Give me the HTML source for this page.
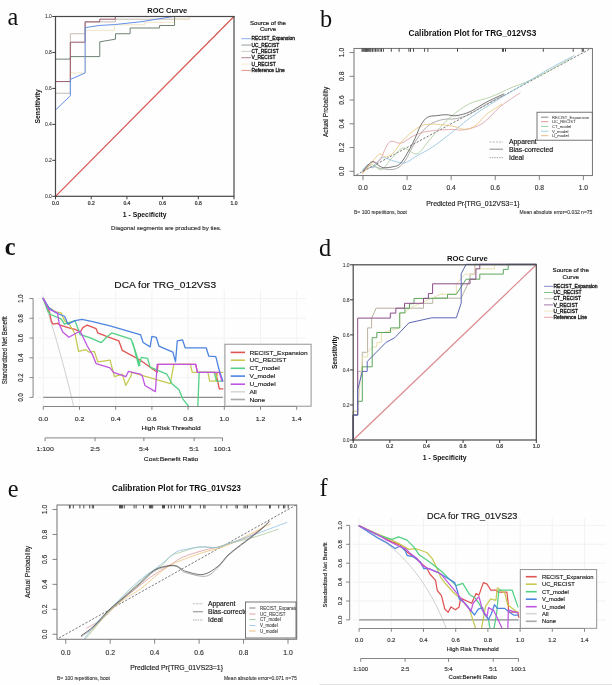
<!DOCTYPE html><html><head><meta charset="utf-8"><style>html,body{margin:0;padding:0;background:#fff;}svg{display:block;filter:blur(0.35px);}</style></head><body>
<svg width="612" height="685" viewBox="0 0 612 685">
<rect x="0" y="0" width="612" height="685" fill="#fefefe"/>
<defs><clipPath id="cb"><rect x="354" y="48.4" width="238.4" height="127.2"/></clipPath><clipPath id="ce"><rect x="57" y="505" width="239.75" height="134.25"/></clipPath><clipPath id="cc"><rect x="37" y="290" width="300" height="116.5"/></clipPath><clipPath id="cf"><rect x="353" y="518" width="255" height="110.5"/></clipPath></defs>
<text x="7.4" y="25.3" font-size="24.3" text-anchor="start" font-weight="normal" fill="#111" font-family="Liberation Serif" >a</text>
<text x="320" y="26.6" font-size="24.3" text-anchor="start" font-weight="normal" fill="#111" font-family="Liberation Serif" >b</text>
<text x="4.8" y="254.6" font-size="24.3" text-anchor="start" font-weight="bold" fill="#111" font-family="Liberation Serif" >c</text>
<text x="319" y="255.9" font-size="24.3" text-anchor="start" font-weight="normal" fill="#111" font-family="Liberation Serif" >d</text>
<text x="7.8" y="496.8" font-size="24.3" text-anchor="start" font-weight="normal" fill="#111" font-family="Liberation Serif" >e</text>
<text x="319.5" y="495.6" font-size="24.3" text-anchor="start" font-weight="normal" fill="#111" font-family="Liberation Serif" >f</text>
<path d="M55.5 93.27 L70.32 93.27 L70.32 33.76 L85.13 33.76 L85.13 21.89 L115.3 21.89 L115.3 19.2 L189.38 19.2 L189.38 16.5 L234 16.5" fill="none" stroke="#c4bcb4" stroke-width="1" stroke-linejoin="round" stroke-linecap="round" />
<path d="M70.32 79.43 L70.32 72.96 L85.13 72.96 L85.13 30.34 L114.41 30.34 L114.41 24.77 L144.75 24.77 L144.75 22.25 L174.56 22.25 L174.56 19.2 L189.38 19.2 L189.38 16.5" fill="none" stroke="#f0e6c4" stroke-width="1" stroke-linejoin="round" stroke-linecap="round" />
<path d="M55.5 59.11 L70.32 59.11 L70.32 56.6 L99.77 56.6 L99.77 41.85 L115.48 39.15 L115.48 33.76 L130.11 33.76 L130.11 28.01 L159.57 28.01 L159.57 25.49 L174.56 25.49 L174.56 16.5 L234 16.5" fill="none" stroke="#6f8373" stroke-width="1" stroke-linejoin="round" stroke-linecap="round" />
<path d="M55.5 81.59 L70.32 81.59 L70.32 42.21 L85.13 42.21 L85.13 21.89 L99.77 21.89 L99.77 19.2 L115.3 19.2 L115.3 16.5 L234 16.5" fill="none" stroke="#9a5868" stroke-width="1" stroke-linejoin="round" stroke-linecap="round" />
<path d="M55.5 110 L70.32 95.79 L70.32 79.43 L85.13 72.96 L85.13 27.65 L99.05 25.49 L114.41 24.59 L139.93 21.89 L173.31 16.5 L234 16.5" fill="none" stroke="#6490e8" stroke-width="1" stroke-linejoin="round" stroke-linecap="round" />
<line x1="55.5" y1="196.3" x2="234" y2="16.5" stroke="#d8574f" stroke-width="1.2" />
<rect x="55.5" y="16.5" width="178.5" height="179.8" fill="none" stroke="#484848" stroke-width="1.2"/>
<line x1="52.3" y1="196.3" x2="55.5" y2="196.3" stroke="#3a3a3a" stroke-width="1" />
<text x="51.9" y="198.1" font-size="5" text-anchor="end" font-weight="normal" fill="#444" stroke="#444" stroke-width="0.1" font-family="Liberation Sans" >0.0</text>
<line x1="55.5" y1="196.3" x2="55.5" y2="199.3" stroke="#3a3a3a" stroke-width="1" />
<text x="55.5" y="204.7" font-size="5" text-anchor="middle" font-weight="normal" fill="#333" stroke="#333" stroke-width="0.22" font-family="Liberation Sans" >0.0</text>
<line x1="52.3" y1="160.34" x2="55.5" y2="160.34" stroke="#3a3a3a" stroke-width="1" />
<text x="51.9" y="162.14" font-size="5" text-anchor="end" font-weight="normal" fill="#444" stroke="#444" stroke-width="0.1" font-family="Liberation Sans" >0.2</text>
<line x1="91.2" y1="196.3" x2="91.2" y2="199.3" stroke="#3a3a3a" stroke-width="1" />
<text x="91.2" y="204.7" font-size="5" text-anchor="middle" font-weight="normal" fill="#333" stroke="#333" stroke-width="0.22" font-family="Liberation Sans" >0.2</text>
<line x1="52.3" y1="124.38" x2="55.5" y2="124.38" stroke="#3a3a3a" stroke-width="1" />
<text x="51.9" y="126.18" font-size="5" text-anchor="end" font-weight="normal" fill="#444" stroke="#444" stroke-width="0.1" font-family="Liberation Sans" >0.4</text>
<line x1="126.9" y1="196.3" x2="126.9" y2="199.3" stroke="#3a3a3a" stroke-width="1" />
<text x="126.9" y="204.7" font-size="5" text-anchor="middle" font-weight="normal" fill="#333" stroke="#333" stroke-width="0.22" font-family="Liberation Sans" >0.4</text>
<line x1="52.3" y1="88.42" x2="55.5" y2="88.42" stroke="#3a3a3a" stroke-width="1" />
<text x="51.9" y="90.22" font-size="5" text-anchor="end" font-weight="normal" fill="#444" stroke="#444" stroke-width="0.1" font-family="Liberation Sans" >0.6</text>
<line x1="162.6" y1="196.3" x2="162.6" y2="199.3" stroke="#3a3a3a" stroke-width="1" />
<text x="162.6" y="204.7" font-size="5" text-anchor="middle" font-weight="normal" fill="#333" stroke="#333" stroke-width="0.22" font-family="Liberation Sans" >0.6</text>
<line x1="52.3" y1="52.46" x2="55.5" y2="52.46" stroke="#3a3a3a" stroke-width="1" />
<text x="51.9" y="54.26" font-size="5" text-anchor="end" font-weight="normal" fill="#444" stroke="#444" stroke-width="0.1" font-family="Liberation Sans" >0.8</text>
<line x1="198.3" y1="196.3" x2="198.3" y2="199.3" stroke="#3a3a3a" stroke-width="1" />
<text x="198.3" y="204.7" font-size="5" text-anchor="middle" font-weight="normal" fill="#333" stroke="#333" stroke-width="0.22" font-family="Liberation Sans" >0.8</text>
<line x1="52.3" y1="16.5" x2="55.5" y2="16.5" stroke="#3a3a3a" stroke-width="1" />
<text x="51.9" y="18.3" font-size="5" text-anchor="end" font-weight="normal" fill="#444" stroke="#444" stroke-width="0.1" font-family="Liberation Sans" >1.0</text>
<line x1="234" y1="196.3" x2="234" y2="199.3" stroke="#3a3a3a" stroke-width="1" />
<text x="234" y="204.7" font-size="5" text-anchor="middle" font-weight="normal" fill="#333" stroke="#333" stroke-width="0.22" font-family="Liberation Sans" >1.0</text>
<text x="167.3" y="12.9" font-size="7.5" text-anchor="middle" font-weight="bold" fill="#111" font-family="Liberation Sans" >ROC Curve</text>
<text x="0" y="2.47" font-size="6.85" text-anchor="middle" font-weight="bold" fill="#111" font-family="Liberation Sans" transform="translate(37.2 106.4) scale(1.0 1) rotate(-90)" >Sensitivity</text>
<text x="144.75" y="216.75" font-size="6.8" text-anchor="middle" font-weight="bold" fill="#111" font-family="Liberation Sans" >1 - Specificity</text>
<text x="268" y="24.68" font-size="6.05" text-anchor="middle" font-weight="normal" fill="#222" stroke="#222" stroke-width="0.2" font-family="Liberation Sans" >Source of the</text>
<text x="268" y="30.88" font-size="6.05" text-anchor="middle" font-weight="normal" fill="#222" stroke="#222" stroke-width="0.2" font-family="Liberation Sans" >Curve</text>
<line x1="241.4" y1="38.7" x2="251" y2="38.7" stroke="#6490e8" stroke-width="0.75" />
<text x="251.5" y="40.46" font-size="4.9" text-anchor="start" font-weight="normal" fill="#111" stroke="#111" stroke-width="0.28" font-family="Liberation Sans" >RECIST_Expansion</text>
<line x1="241.4" y1="45.04" x2="251" y2="45.04" stroke="#6f8373" stroke-width="0.75" />
<text x="251.5" y="46.8" font-size="4.9" text-anchor="start" font-weight="normal" fill="#111" stroke="#111" stroke-width="0.28" font-family="Liberation Sans" >UC_RECIST</text>
<line x1="241.4" y1="51.38" x2="251" y2="51.38" stroke="#c4bcb4" stroke-width="0.75" />
<text x="251.5" y="53.14" font-size="4.9" text-anchor="start" font-weight="normal" fill="#111" stroke="#111" stroke-width="0.28" font-family="Liberation Sans" >CT_RECIST</text>
<line x1="241.4" y1="57.72" x2="251" y2="57.72" stroke="#9a5868" stroke-width="0.75" />
<text x="251.5" y="59.48" font-size="4.9" text-anchor="start" font-weight="normal" fill="#111" stroke="#111" stroke-width="0.28" font-family="Liberation Sans" >V_RECIST</text>
<line x1="241.4" y1="64.06" x2="251" y2="64.06" stroke="#f0e6c4" stroke-width="0.75" />
<text x="251.5" y="65.82" font-size="4.9" text-anchor="start" font-weight="normal" fill="#111" stroke="#111" stroke-width="0.28" font-family="Liberation Sans" >U_RECIST</text>
<line x1="241.4" y1="70.4" x2="251" y2="70.4" stroke="#e07060" stroke-width="0.75" />
<text x="251.5" y="72.16" font-size="4.9" text-anchor="start" font-weight="normal" fill="#111" stroke="#111" stroke-width="0.28" font-family="Liberation Sans" >Reference Line</text>
<text x="166.3" y="230.49" font-size="6.08" text-anchor="middle" font-weight="normal" fill="#333" stroke="#333" stroke-width="0.15" font-family="Liberation Sans" >Diagonal segments are produced by ties.</text>
<path d="M353.1 440 L353.1 411.3 L357.7 411.3 L357.7 371.4 L362.3 371.4 L362.3 352.3 L367.6 352.3 L367.6 327.9 L371.6 327.9 L371.6 318.1 L376.1 308.2 L423.5 308.2 L423.5 303.3 L432.7 303.3 L432.7 298.2 L461.2 298.2 L470 279.2 L470 274.1 L474.9 274.1 L474.9 264.3 L536 264.3" fill="none" stroke="#bab2a2" stroke-width="1" stroke-linejoin="round" stroke-linecap="round" />
<path d="M353.1 440 L353.1 411.3 L357.7 411.3 L362.3 356.9 L367.6 356.9 L367.6 352.3 L372.2 346.9 L376.8 346.9 L376.8 342.3 L381.4 342.3 L381.4 333.1 L399.8 327.8 L399.8 313.1 L404.7 313.1 L409.6 308.2 L442.3 293.5 L441.6 294.3 L456.3 294.3 L456.3 283.9 L465.1 274.1 L474.9 274.1 L474.9 268.8 L494.5 268.8 L494.5 264.3 L536 264.3" fill="none" stroke="#e9e0b2" stroke-width="1" stroke-linejoin="round" stroke-linecap="round" />
<path d="M353.1 440 L353.1 415 L357.7 415 L357.7 401.3 L362.3 401.3 L362.3 366.8 L372.2 366.8 L372.2 337.7 L376.8 337.7 L376.8 332.5 L390.5 332.5 L390.5 327.9 L399.7 327.9 L399.7 312.9 L404.9 312.9 L404.9 308.3 L409.5 308.3 L409.5 303.7 L414 303.7 L414 298.5 L441.6 298.2 L447.5 298.2 L447.5 294.3 L456.3 294.3 L466.1 279.2 L479.8 279.2 L479.8 274.1 L503.3 274.1 L503.3 269.4 L508.2 269.4 L508.2 264.3 L536 264.3" fill="none" stroke="#5ea65e" stroke-width="1" stroke-linejoin="round" stroke-linecap="round" />
<path d="M353.1 440 L353.1 415 L357.7 415 L357.7 318.1 L390.3 318.1 L390.3 313.1 L395.8 313.1 L395.8 308.2 L404.5 308.2 L404.5 303.3 L423.5 303.3 L423.5 298.4 L428.4 298.4 L428.4 293.5 L432.6 293.5 L432.6 283.8 L470 283.8 L470 279.2 L475.9 279.2 L475.9 268.8 L479.8 268.8 L479.8 264.3 L536 264.3" fill="none" stroke="#8a4f8a" stroke-width="1" stroke-linejoin="round" stroke-linecap="round" />
<path d="M353.1 440 L353.1 415.1 L357.7 415.1 L357.7 389.8 L362.3 371.4 L367.2 371.4 L367.2 361.5 L385.9 342.5 L394.9 337.6 L408.8 322.9 L431.8 317.8 L456.3 317.8 L461.2 303.1 L461.2 273.7 L466.1 264.3 L536 264.3" fill="none" stroke="#5a66b2" stroke-width="1" stroke-linejoin="round" stroke-linecap="round" />
<line x1="353.2" y1="440" x2="536.3" y2="264.8" stroke="#dc8a90" stroke-width="1.2" />
<rect x="353.2" y="264.8" width="183.1" height="175.2" fill="none" stroke="#484848" stroke-width="1.2"/>
<line x1="350" y1="440" x2="353.2" y2="440" stroke="#3a3a3a" stroke-width="1" />
<text x="349.6" y="441.8" font-size="5" text-anchor="end" font-weight="normal" fill="#444" stroke="#444" stroke-width="0.1" font-family="Liberation Sans" >0.0</text>
<line x1="353.2" y1="440" x2="353.2" y2="443" stroke="#3a3a3a" stroke-width="1" />
<text x="353.2" y="448.4" font-size="5" text-anchor="middle" font-weight="normal" fill="#333" stroke="#333" stroke-width="0.22" font-family="Liberation Sans" >0.0</text>
<line x1="350" y1="404.96" x2="353.2" y2="404.96" stroke="#3a3a3a" stroke-width="1" />
<text x="349.6" y="406.76" font-size="5" text-anchor="end" font-weight="normal" fill="#444" stroke="#444" stroke-width="0.1" font-family="Liberation Sans" >0.2</text>
<line x1="389.82" y1="440" x2="389.82" y2="443" stroke="#3a3a3a" stroke-width="1" />
<text x="389.82" y="448.4" font-size="5" text-anchor="middle" font-weight="normal" fill="#333" stroke="#333" stroke-width="0.22" font-family="Liberation Sans" >0.2</text>
<line x1="350" y1="369.92" x2="353.2" y2="369.92" stroke="#3a3a3a" stroke-width="1" />
<text x="349.6" y="371.72" font-size="5" text-anchor="end" font-weight="normal" fill="#444" stroke="#444" stroke-width="0.1" font-family="Liberation Sans" >0.4</text>
<line x1="426.44" y1="440" x2="426.44" y2="443" stroke="#3a3a3a" stroke-width="1" />
<text x="426.44" y="448.4" font-size="5" text-anchor="middle" font-weight="normal" fill="#333" stroke="#333" stroke-width="0.22" font-family="Liberation Sans" >0.4</text>
<line x1="350" y1="334.88" x2="353.2" y2="334.88" stroke="#3a3a3a" stroke-width="1" />
<text x="349.6" y="336.68" font-size="5" text-anchor="end" font-weight="normal" fill="#444" stroke="#444" stroke-width="0.1" font-family="Liberation Sans" >0.6</text>
<line x1="463.06" y1="440" x2="463.06" y2="443" stroke="#3a3a3a" stroke-width="1" />
<text x="463.06" y="448.4" font-size="5" text-anchor="middle" font-weight="normal" fill="#333" stroke="#333" stroke-width="0.22" font-family="Liberation Sans" >0.6</text>
<line x1="350" y1="299.84" x2="353.2" y2="299.84" stroke="#3a3a3a" stroke-width="1" />
<text x="349.6" y="301.64" font-size="5" text-anchor="end" font-weight="normal" fill="#444" stroke="#444" stroke-width="0.1" font-family="Liberation Sans" >0.8</text>
<line x1="499.68" y1="440" x2="499.68" y2="443" stroke="#3a3a3a" stroke-width="1" />
<text x="499.68" y="448.4" font-size="5" text-anchor="middle" font-weight="normal" fill="#333" stroke="#333" stroke-width="0.22" font-family="Liberation Sans" >0.8</text>
<line x1="350" y1="264.8" x2="353.2" y2="264.8" stroke="#3a3a3a" stroke-width="1" />
<text x="349.6" y="266.6" font-size="5" text-anchor="end" font-weight="normal" fill="#444" stroke="#444" stroke-width="0.1" font-family="Liberation Sans" >1.0</text>
<line x1="536.3" y1="440" x2="536.3" y2="443" stroke="#3a3a3a" stroke-width="1" />
<text x="536.3" y="448.4" font-size="5" text-anchor="middle" font-weight="normal" fill="#333" stroke="#333" stroke-width="0.22" font-family="Liberation Sans" >1.0</text>
<text x="467.4" y="261.45" font-size="7.65" text-anchor="middle" font-weight="bold" fill="#111" font-family="Liberation Sans" >ROC Curve</text>
<text x="0" y="2.41" font-size="6.7" text-anchor="middle" font-weight="bold" fill="#111" font-family="Liberation Sans" transform="translate(334.9 352.4) scale(1.0 1) rotate(-90)" >Sensitivity</text>
<text x="444.75" y="459.85" font-size="6.8" text-anchor="middle" font-weight="bold" fill="#111" font-family="Liberation Sans" >1 - Specificity</text>
<text x="570.7" y="272.3" font-size="6.1" text-anchor="middle" font-weight="normal" fill="#222" stroke="#222" stroke-width="0.2" font-family="Liberation Sans" >Source of the</text>
<text x="570.7" y="278.5" font-size="6.1" text-anchor="middle" font-weight="normal" fill="#222" stroke="#222" stroke-width="0.2" font-family="Liberation Sans" >Curve</text>
<line x1="544" y1="286.3" x2="553" y2="286.3" stroke="#5a66b2" stroke-width="0.75" />
<text x="553.5" y="288.09" font-size="4.96" text-anchor="start" font-weight="normal" fill="#111" stroke="#111" stroke-width="0.28" font-family="Liberation Sans" >RECIST_Expansion</text>
<line x1="544" y1="292.5" x2="553" y2="292.5" stroke="#5ea65e" stroke-width="0.75" />
<text x="553.5" y="294.29" font-size="4.96" text-anchor="start" font-weight="normal" fill="#111" stroke="#111" stroke-width="0.28" font-family="Liberation Sans" >UC_RECIST</text>
<line x1="544" y1="298.7" x2="553" y2="298.7" stroke="#bab2a2" stroke-width="0.75" />
<text x="553.5" y="300.49" font-size="4.96" text-anchor="start" font-weight="normal" fill="#111" stroke="#111" stroke-width="0.28" font-family="Liberation Sans" >CT_RECIST</text>
<line x1="544" y1="304.9" x2="553" y2="304.9" stroke="#8a4f8a" stroke-width="0.75" />
<text x="553.5" y="306.69" font-size="4.96" text-anchor="start" font-weight="normal" fill="#111" stroke="#111" stroke-width="0.28" font-family="Liberation Sans" >V_RECIST</text>
<line x1="544" y1="311.1" x2="553" y2="311.1" stroke="#e9e0b2" stroke-width="0.75" />
<text x="553.5" y="312.89" font-size="4.96" text-anchor="start" font-weight="normal" fill="#111" stroke="#111" stroke-width="0.28" font-family="Liberation Sans" >U_RECIST</text>
<line x1="544" y1="317.3" x2="553" y2="317.3" stroke="#dc8a90" stroke-width="0.75" />
<text x="553.5" y="319.09" font-size="4.96" text-anchor="start" font-weight="normal" fill="#111" stroke="#111" stroke-width="0.28" font-family="Liberation Sans" >Reference Line</text>
<defs><clipPath id="lb"><rect x="537" y="112" width="54" height="28"/></clipPath><clipPath id="le"><rect x="245.5" y="602" width="50.5" height="36"/></clipPath></defs>
<g clip-path="url(#cb)">
<line x1="349.78" y1="178.43" x2="596.62" y2="45.43" stroke="#555" stroke-width="0.8" stroke-dasharray="2.2 1.6"/>
<path d="M362.82 170.59 C364.62 169.93 370.5 166.99 373.61 166.67 C376.71 166.34 377.86 168.24 381.45 168.63 C385.05 169.02 391.25 170.33 395.18 169.02 C399.1 167.71 401.39 165.75 404.98 160.78 C408.58 155.82 412.82 145.1 416.75 139.22 C420.67 133.33 424.26 128.76 428.51 125.49 C432.76 122.22 437.66 120.75 442.24 119.61 C446.81 118.46 451.35 119.54 455.96 118.63 C460.57 117.71 464.82 116.52 469.88 114.12 C474.95 111.72 480.7 107.38 486.34 104.23 C491.98 101.09 500.81 96.74 503.7 95.25" fill="none" stroke="#8a8a8a" stroke-width="0.7" stroke-linejoin="round" stroke-linecap="round" />
<path d="M362.82 169.61 C364.29 168.79 368.54 164.71 371.65 164.71 C374.75 164.71 378.18 170.59 381.45 169.61 C384.72 168.63 387.66 162.42 391.25 158.82 C394.85 155.23 398.77 148.86 403.02 148.04 C407.27 147.22 412.5 155.07 416.75 153.92 C420.99 152.78 424.59 145.59 428.51 141.18 C432.43 136.76 436.35 131.7 440.27 127.45 C444.2 123.2 447.1 119.67 452.04 115.69 C456.97 111.7 463.48 106.63 469.88 103.53 C476.28 100.43 483.6 99.69 490.42 97.08 C497.25 94.48 504.38 90.62 510.85 87.89 C517.32 85.17 522.42 83.88 529.23 80.74 C536.04 77.61 544.55 72.95 551.7 69.1 C558.85 65.25 568.72 59.57 572.12 57.66" fill="none" stroke="#a9c99a" stroke-width="0.8" stroke-linejoin="round" stroke-linecap="round" />
<path d="M362.82 170.59 C363.64 169.61 365.93 165.2 367.73 164.71 C369.52 164.22 371.32 168.79 373.61 167.65 C375.9 166.5 378.18 158.99 381.45 157.84 C384.72 156.7 389.29 159.97 393.22 160.78 C397.14 161.6 401.06 163.56 404.98 162.75 C408.9 161.93 412.17 158.5 416.75 155.88 C421.32 153.27 426.55 150.98 432.43 147.06 C438.31 143.14 445.8 137.19 452.04 132.35 C458.28 127.52 463.48 122.73 469.88 118.04 C476.28 113.35 483.6 108.58 490.42 104.23 C497.25 99.89 504.38 95.89 510.85 91.98 C517.32 88.06 522.42 84.83 529.23 80.74 C536.04 76.66 544.21 71.65 551.7 67.47 C559.19 63.28 570.42 57.6 574.17 55.62" fill="none" stroke="#8fc0e0" stroke-width="0.8" stroke-linejoin="round" stroke-linecap="round" />
<path d="M362.82 172.55 C364.29 170.92 368.87 164.71 371.65 162.75 C374.42 160.78 376.55 164.22 379.49 160.78 C382.43 157.35 385.7 145.1 389.29 142.16 C392.89 139.22 397.14 144.12 401.06 143.14 C404.98 142.16 409.23 138.07 412.82 136.27 C416.42 134.48 418.71 133.33 422.63 132.35 C426.55 131.37 431.45 130.88 436.35 130.39 C441.25 129.9 447.46 129.51 452.04 129.41 C456.61 129.31 458.77 130.77 463.8 129.8 C468.84 128.84 476.12 127.56 482.25 123.64 C488.39 119.71 494.34 111.38 500.64 106.27 C506.93 101.17 516.81 95.21 520.04 93" fill="none" stroke="#dc9aa0" stroke-width="0.8" stroke-linejoin="round" stroke-linecap="round" />
<path d="M362.82 173.53 C364.29 171.73 368.87 166.01 371.65 162.75 C374.42 159.48 377.2 154.9 379.49 153.92 C381.78 152.94 383.08 157.03 385.37 156.86 C387.66 156.7 390.27 155.72 393.22 152.94 C396.16 150.16 399.1 144.28 403.02 140.2 C406.94 136.11 412.82 131.05 416.75 128.43 C420.67 125.82 422.63 125.16 426.55 124.51 C430.47 123.86 435.7 124.18 440.27 124.51 C444.85 124.84 449.75 125.65 454 126.47 C458.25 127.29 462.08 129.65 465.76 129.41 C469.45 129.18 472.7 127.56 476.13 125.07 C479.56 122.57 482.08 117.92 486.34 114.44 C490.6 110.97 499.11 105.93 501.66 104.23" fill="none" stroke="#e8c47a" stroke-width="0.8" stroke-linejoin="round" stroke-linecap="round" />
<path d="M362.82 171.57 C364.29 169.93 369.2 162.91 371.65 161.76 C374.1 160.62 375.57 163.73 377.53 164.71 C379.49 165.69 380.8 167.32 383.41 167.65 C386.03 167.97 390.27 167.48 393.22 166.67 C396.16 165.85 397.79 166.67 401.06 162.75 C404.33 158.82 409.56 149.35 412.82 143.14 C416.09 136.93 418.22 129.8 420.67 125.49 C423.12 121.18 424.92 118.89 427.53 117.25 C430.14 115.62 433.25 116.11 436.35 115.69 C439.46 115.26 442.89 114.71 446.16 114.71 C449.42 114.71 452.01 116.18 455.96 115.69 C459.92 115.2 464.82 114.01 469.88 111.76 C474.95 109.52 480.7 105.15 486.34 102.19 C491.98 99.23 500.81 95.38 503.7 94.02" fill="none" stroke="#505050" stroke-width="0.8" stroke-linejoin="round" stroke-linecap="round" />
</g>
<rect x="354" y="48.4" width="238.4" height="127.2" fill="none" stroke="#666" stroke-width="0.9"/>
<line x1="349.5" y1="171.3" x2="354" y2="171.3" stroke="#666" stroke-width="0.8" />
<text x="0" y="2.41" font-size="6.7" text-anchor="middle" font-weight="normal" fill="#333" stroke="#333" stroke-width="0.15" font-family="Liberation Sans" transform="translate(341.6 171.3) scale(1.0 1) rotate(-90)" >0.0</text>
<line x1="363" y1="175.6" x2="363" y2="180.1" stroke="#666" stroke-width="0.8" />
<text x="363" y="190.31" font-size="6.7" text-anchor="middle" font-weight="normal" fill="#333" stroke="#333" stroke-width="0.15" font-family="Liberation Sans" >0.0</text>
<line x1="349.5" y1="147.55" x2="354" y2="147.55" stroke="#666" stroke-width="0.8" />
<text x="0" y="2.41" font-size="6.7" text-anchor="middle" font-weight="normal" fill="#333" stroke="#333" stroke-width="0.15" font-family="Liberation Sans" transform="translate(341.6 147.55) scale(1.0 1) rotate(-90)" >0.2</text>
<line x1="407.08" y1="175.6" x2="407.08" y2="180.1" stroke="#666" stroke-width="0.8" />
<text x="407.08" y="190.31" font-size="6.7" text-anchor="middle" font-weight="normal" fill="#333" stroke="#333" stroke-width="0.15" font-family="Liberation Sans" >0.2</text>
<line x1="349.5" y1="123.8" x2="354" y2="123.8" stroke="#666" stroke-width="0.8" />
<text x="0" y="2.41" font-size="6.7" text-anchor="middle" font-weight="normal" fill="#333" stroke="#333" stroke-width="0.15" font-family="Liberation Sans" transform="translate(341.6 123.8) scale(1.0 1) rotate(-90)" >0.4</text>
<line x1="451.16" y1="175.6" x2="451.16" y2="180.1" stroke="#666" stroke-width="0.8" />
<text x="451.16" y="190.31" font-size="6.7" text-anchor="middle" font-weight="normal" fill="#333" stroke="#333" stroke-width="0.15" font-family="Liberation Sans" >0.4</text>
<line x1="349.5" y1="100.05" x2="354" y2="100.05" stroke="#666" stroke-width="0.8" />
<text x="0" y="2.41" font-size="6.7" text-anchor="middle" font-weight="normal" fill="#333" stroke="#333" stroke-width="0.15" font-family="Liberation Sans" transform="translate(341.6 100.05) scale(1.0 1) rotate(-90)" >0.6</text>
<line x1="495.24" y1="175.6" x2="495.24" y2="180.1" stroke="#666" stroke-width="0.8" />
<text x="495.24" y="190.31" font-size="6.7" text-anchor="middle" font-weight="normal" fill="#333" stroke="#333" stroke-width="0.15" font-family="Liberation Sans" >0.6</text>
<line x1="349.5" y1="76.3" x2="354" y2="76.3" stroke="#666" stroke-width="0.8" />
<text x="0" y="2.41" font-size="6.7" text-anchor="middle" font-weight="normal" fill="#333" stroke="#333" stroke-width="0.15" font-family="Liberation Sans" transform="translate(341.6 76.3) scale(1.0 1) rotate(-90)" >0.8</text>
<line x1="539.32" y1="175.6" x2="539.32" y2="180.1" stroke="#666" stroke-width="0.8" />
<text x="539.32" y="190.31" font-size="6.7" text-anchor="middle" font-weight="normal" fill="#333" stroke="#333" stroke-width="0.15" font-family="Liberation Sans" >0.8</text>
<line x1="349.5" y1="52.55" x2="354" y2="52.55" stroke="#666" stroke-width="0.8" />
<text x="0" y="2.41" font-size="6.7" text-anchor="middle" font-weight="normal" fill="#333" stroke="#333" stroke-width="0.15" font-family="Liberation Sans" transform="translate(341.6 52.55) scale(1.0 1) rotate(-90)" >1.0</text>
<line x1="583.4" y1="175.6" x2="583.4" y2="180.1" stroke="#666" stroke-width="0.8" />
<text x="583.4" y="190.31" font-size="6.7" text-anchor="middle" font-weight="normal" fill="#333" stroke="#333" stroke-width="0.15" font-family="Liberation Sans" >1.0</text>
<line x1="362" y1="48.4" x2="362" y2="51.8" stroke="#444" stroke-width="0.95" />
<line x1="362.9" y1="48.4" x2="362.9" y2="51.8" stroke="#444" stroke-width="0.95" />
<line x1="363.8" y1="48.4" x2="363.8" y2="51.8" stroke="#444" stroke-width="0.95" />
<line x1="364.7" y1="48.4" x2="364.7" y2="51.8" stroke="#444" stroke-width="0.95" />
<line x1="365.6" y1="48.4" x2="365.6" y2="51.8" stroke="#444" stroke-width="0.95" />
<line x1="366.5" y1="48.4" x2="366.5" y2="51.8" stroke="#444" stroke-width="0.95" />
<line x1="367.4" y1="48.4" x2="367.4" y2="51.8" stroke="#444" stroke-width="0.95" />
<line x1="368.3" y1="48.4" x2="368.3" y2="51.8" stroke="#444" stroke-width="0.95" />
<line x1="369.2" y1="48.4" x2="369.2" y2="51.8" stroke="#444" stroke-width="0.95" />
<line x1="370.1" y1="48.4" x2="370.1" y2="51.8" stroke="#444" stroke-width="0.95" />
<line x1="371" y1="48.4" x2="371" y2="51.8" stroke="#444" stroke-width="0.95" />
<line x1="372.5" y1="48.4" x2="372.5" y2="51.8" stroke="#444" stroke-width="0.95" />
<line x1="374" y1="48.4" x2="374" y2="51.8" stroke="#444" stroke-width="0.95" />
<line x1="375.5" y1="48.4" x2="375.5" y2="51.8" stroke="#444" stroke-width="0.95" />
<line x1="377" y1="48.4" x2="377" y2="51.8" stroke="#444" stroke-width="0.95" />
<line x1="378.2" y1="48.4" x2="378.2" y2="51.8" stroke="#444" stroke-width="0.95" />
<line x1="380.1" y1="48.4" x2="380.1" y2="51.8" stroke="#444" stroke-width="0.95" />
<line x1="381.5" y1="48.4" x2="381.5" y2="51.8" stroke="#444" stroke-width="0.95" />
<line x1="383.4" y1="48.4" x2="383.4" y2="51.8" stroke="#444" stroke-width="0.95" />
<line x1="391.3" y1="48.4" x2="391.3" y2="51.8" stroke="#444" stroke-width="0.95" />
<line x1="399.1" y1="48.4" x2="399.1" y2="51.8" stroke="#444" stroke-width="0.95" />
<line x1="408.9" y1="48.4" x2="408.9" y2="51.8" stroke="#444" stroke-width="0.95" />
<line x1="410.5" y1="48.4" x2="410.5" y2="51.8" stroke="#444" stroke-width="0.95" />
<line x1="413.5" y1="48.4" x2="413.5" y2="51.8" stroke="#444" stroke-width="0.95" />
<line x1="424.6" y1="48.4" x2="424.6" y2="51.8" stroke="#444" stroke-width="0.95" />
<line x1="427.9" y1="48.4" x2="427.9" y2="51.8" stroke="#444" stroke-width="0.95" />
<line x1="457.5" y1="48.4" x2="457.5" y2="51.8" stroke="#444" stroke-width="0.95" />
<line x1="502.5" y1="48.4" x2="502.5" y2="51.8" stroke="#444" stroke-width="0.95" />
<line x1="503.5" y1="48.4" x2="503.5" y2="51.8" stroke="#444" stroke-width="0.95" />
<line x1="505.5" y1="48.4" x2="505.5" y2="51.8" stroke="#444" stroke-width="0.95" />
<line x1="543.3" y1="48.4" x2="543.3" y2="51.8" stroke="#444" stroke-width="0.95" />
<line x1="573.2" y1="48.4" x2="573.2" y2="51.8" stroke="#444" stroke-width="0.95" />
<line x1="582.2" y1="48.4" x2="582.2" y2="51.8" stroke="#444" stroke-width="0.95" />
<line x1="583.3" y1="48.4" x2="583.3" y2="51.8" stroke="#444" stroke-width="0.95" />
<text x="472.5" y="35.97" font-size="8.26" text-anchor="middle" font-weight="bold" fill="#111" font-family="Liberation Sans" >Calibration Plot for TRG_012VS3</text>
<text x="0" y="2.34" font-size="6.5" text-anchor="middle" font-weight="normal" fill="#222" stroke="#222" stroke-width="0.15" font-family="Liberation Sans" transform="translate(325.2 111.93) scale(1.0 1) rotate(-90)" >Actual Probability</text>
<text x="472.9" y="205.73" font-size="6.9" text-anchor="middle" font-weight="normal" fill="#222" stroke="#222" stroke-width="0.15" font-family="Liberation Sans" >Predicted Pr{TRG_012VS3=1}</text>
<text x="354" y="213.8" font-size="5" text-anchor="start" font-weight="normal" fill="#333" stroke="#333" stroke-width="0.1" font-family="Liberation Sans" >B= 100 repetitions, boot</text>
<text x="592.4" y="213.8" font-size="5" text-anchor="end" font-weight="normal" fill="#333" stroke="#333" stroke-width="0.1" font-family="Liberation Sans" >Mean absolute error=0.032 n=75</text>
<line x1="489.5" y1="142" x2="503" y2="142" stroke="#b5b5b5" stroke-width="0.9" stroke-dasharray="2.2 1"/>
<line x1="489.5" y1="149.2" x2="503" y2="149.2" stroke="#8a8a8a" stroke-width="1" />
<line x1="489.5" y1="157.6" x2="503" y2="157.6" stroke="#9a9a9a" stroke-width="0.9" stroke-dasharray="1.4 1"/>
<text x="509" y="144.46" font-size="6.83" text-anchor="start" font-weight="normal" fill="#111" stroke="#111" stroke-width="0.15" font-family="Liberation Sans" >Apparent</text>
<text x="509" y="151.66" font-size="6.83" text-anchor="start" font-weight="normal" fill="#111" stroke="#111" stroke-width="0.15" font-family="Liberation Sans" >Bias-corrected</text>
<text x="509" y="160.06" font-size="6.83" text-anchor="start" font-weight="normal" fill="#111" stroke="#111" stroke-width="0.15" font-family="Liberation Sans" >Ideal</text>
<rect x="537" y="112.2" width="55.25" height="28" fill="#fefefe" stroke="#555" stroke-width="0.8"/>
<g clip-path="url(#lb)">
<line x1="541" y1="117.2" x2="548.3" y2="117.2" stroke="#777" stroke-width="0.9" />
<text x="551.9" y="118.71" font-size="4.2" text-anchor="start" font-weight="normal" fill="#333" stroke="#333" stroke-width="0.02" font-family="Liberation Sans" >RECIST_Expansion</text>
<line x1="541" y1="121.7" x2="548.3" y2="121.7" stroke="#d98a8a" stroke-width="0.9" />
<text x="551.9" y="123.21" font-size="4.2" text-anchor="start" font-weight="normal" fill="#333" stroke="#333" stroke-width="0.02" font-family="Liberation Sans" >UC_RECIST</text>
<line x1="541" y1="126.5" x2="548.3" y2="126.5" stroke="#9cc99a" stroke-width="0.9" />
<text x="551.9" y="128.01" font-size="4.2" text-anchor="start" font-weight="normal" fill="#333" stroke="#333" stroke-width="0.02" font-family="Liberation Sans" >CT_model</text>
<line x1="541" y1="131.2" x2="548.3" y2="131.2" stroke="#9cc8dc" stroke-width="0.9" />
<text x="551.9" y="132.71" font-size="4.2" text-anchor="start" font-weight="normal" fill="#333" stroke="#333" stroke-width="0.02" font-family="Liberation Sans" >V_model</text>
<line x1="541" y1="135.7" x2="548.3" y2="135.7" stroke="#eeb070" stroke-width="0.9" />
<text x="551.9" y="137.21" font-size="4.2" text-anchor="start" font-weight="normal" fill="#333" stroke="#333" stroke-width="0.02" font-family="Liberation Sans" >U_model</text>
</g>
<g clip-path="url(#ce)">
<line x1="52.41" y1="641.74" x2="301.34" y2="502.01" stroke="#555" stroke-width="0.8" stroke-dasharray="2.2 1.6"/>
<path d="M86.55 628.15 C89.21 626.55 96.99 623.01 102.48 618.59 C107.97 614.16 114.16 606.38 119.47 601.6 C124.78 596.82 129.39 593.81 134.34 589.92 C139.3 586.02 144.61 581.6 149.21 578.23 C153.81 574.87 158.06 572.21 161.95 569.74 C165.85 567.26 169.03 565.49 172.57 563.36 C176.11 561.24 178.12 559.14 183.19 556.99 C188.27 554.85 196.78 552.29 203 550.5 C209.22 548.71 213 548.5 220.5 546.25 C228 544 240.71 540.33 248 537 C255.29 533.67 261.54 528.04 264.25 526.25" fill="none" stroke="#dc9aa0" stroke-width="0.8" stroke-linejoin="round" stroke-linecap="round" />
<path d="M89.74 633.46 C92.57 630.27 101.06 620.01 106.73 614.34 C112.39 608.68 118.06 603.72 123.72 599.47 C129.39 595.23 135.4 592.75 140.71 588.85 C146.02 584.96 150.98 579.83 155.58 576.11 C160.18 572.39 164.43 569.03 168.33 566.55 C172.22 564.07 173.17 563.58 178.95 561.24 C184.73 558.9 194.82 555.21 203 552.5 C211.18 549.79 218 549.17 228 545 C238 540.83 255.92 531.04 263 527.5 C270.08 523.96 269.25 524.38 270.5 523.75" fill="none" stroke="#e8c47a" stroke-width="0.8" stroke-linejoin="round" stroke-linecap="round" />
<path d="M85.49 638.77 C88.32 635.4 97.17 624.61 102.48 618.59 C107.79 612.57 112.04 607.97 117.35 602.66 C122.66 597.35 128.68 591.86 134.34 586.73 C140.01 581.6 146.73 575.4 151.33 571.86 C155.94 568.32 158.77 568.14 161.95 565.49 C165.14 562.83 167.62 558.05 170.45 555.93 C173.28 553.81 174.15 554.23 178.95 552.74 C183.75 551.26 192.95 547.87 199.25 547 C205.55 546.13 211.96 548.04 216.75 547.5 C221.54 546.96 221.96 545.42 228 543.75 C234.04 542.08 244.67 539.92 253 537.5 C261.33 535.08 273.83 530.62 278 529.25" fill="none" stroke="#a9c99a" stroke-width="0.8" stroke-linejoin="round" stroke-linecap="round" />
<path d="M83.36 640.04 C85.84 636.82 92.92 626.77 98.23 620.71 C103.54 614.66 109.92 609.03 115.23 603.72 C120.54 598.41 125.14 593.46 130.09 588.85 C135.05 584.25 140.71 579.47 144.96 576.11 C149.21 572.75 152.04 571.33 155.58 568.67 C159.12 566.02 162.66 563.01 166.2 560.18 C169.74 557.35 173.61 553.46 176.82 551.68 C180.04 549.9 181.76 550.28 185.5 549.5 C189.24 548.72 194.04 547.33 199.25 547 C204.46 546.67 211.96 548.04 216.75 547.5 C221.54 546.96 221.96 545.83 228 543.75 C234.04 541.67 243.21 538.54 253 535 C262.79 531.46 281.12 524.58 286.75 522.5" fill="none" stroke="#8fc0e0" stroke-width="0.8" stroke-linejoin="round" stroke-linecap="round" />
<path d="M81.24 636.64 C83.36 635.05 89.38 631.33 93.98 627.09 C98.59 622.84 103.9 615.93 108.85 611.16 C113.81 606.38 118.41 603.01 123.72 598.41 C129.03 593.81 135.76 587.97 140.71 583.54 C145.67 579.12 149.56 574.59 153.46 571.86 C157.35 569.13 160.54 568.18 164.08 567.19 C167.62 566.2 171.87 565.49 174.7 565.91 C177.53 566.34 179.27 568.64 181.07 569.74 C182.87 570.83 181.43 571.41 185.5 572.5 C189.57 573.59 200.08 577.08 205.5 576.25 C210.92 575.42 214.25 570.92 218 567.5 C221.75 564.08 224.25 559.38 228 555.75 C231.75 552.12 236.33 549 240.5 545.75 C244.67 542.5 249.25 539.21 253 536.25 C256.75 533.29 260.42 530.29 263 528 C265.58 525.71 267.58 523.42 268.5 522.5" fill="none" stroke="#8a8a8a" stroke-width="0.7" stroke-linejoin="round" stroke-linecap="round" />
<path d="M81.24 635.58 C83.36 633.99 89.38 630.27 93.98 626.02 C98.59 621.78 103.9 614.87 108.85 610.09 C113.81 605.31 118.41 601.95 123.72 597.35 C129.03 592.75 135.76 586.91 140.71 582.48 C145.67 578.06 149.56 573.45 153.46 570.8 C157.35 568.14 160.54 567.44 164.08 566.55 C167.62 565.67 171.87 565.13 174.7 565.49 C177.53 565.84 179.27 567.71 181.07 568.67 C182.87 569.63 181.85 570.28 185.5 571.25 C189.15 572.22 197.58 575.33 203 574.5 C208.42 573.67 213.83 569.5 218 566.25 C222.17 563 224.25 558.54 228 555 C231.75 551.46 236.33 548.25 240.5 545 C244.67 541.75 249.25 538.42 253 535.5 C256.75 532.58 260.29 529.88 263 527.5 C265.71 525.12 268.21 522.29 269.25 521.25" fill="none" stroke="#505050" stroke-width="0.8" stroke-linejoin="round" stroke-linecap="round" />
</g>
<rect x="57" y="505" width="239.75" height="134.25" fill="none" stroke="#666" stroke-width="0.9"/>
<line x1="52.5" y1="634.25" x2="57" y2="634.25" stroke="#666" stroke-width="0.8" />
<text x="0" y="2.45" font-size="6.8" text-anchor="middle" font-weight="normal" fill="#333" stroke="#333" stroke-width="0.15" font-family="Liberation Sans" transform="translate(44.5 634.25) scale(1.0 1) rotate(-90)" >0.0</text>
<line x1="65.75" y1="639.25" x2="65.75" y2="643.75" stroke="#666" stroke-width="0.8" />
<text x="65.75" y="654.95" font-size="6.8" text-anchor="middle" font-weight="normal" fill="#333" stroke="#333" stroke-width="0.15" font-family="Liberation Sans" >0.0</text>
<line x1="52.5" y1="609.3" x2="57" y2="609.3" stroke="#666" stroke-width="0.8" />
<text x="0" y="2.45" font-size="6.8" text-anchor="middle" font-weight="normal" fill="#333" stroke="#333" stroke-width="0.15" font-family="Liberation Sans" transform="translate(44.5 609.3) scale(1.0 1) rotate(-90)" >0.2</text>
<line x1="110.2" y1="639.25" x2="110.2" y2="643.75" stroke="#666" stroke-width="0.8" />
<text x="110.2" y="654.95" font-size="6.8" text-anchor="middle" font-weight="normal" fill="#333" stroke="#333" stroke-width="0.15" font-family="Liberation Sans" >0.2</text>
<line x1="52.5" y1="584.35" x2="57" y2="584.35" stroke="#666" stroke-width="0.8" />
<text x="0" y="2.45" font-size="6.8" text-anchor="middle" font-weight="normal" fill="#333" stroke="#333" stroke-width="0.15" font-family="Liberation Sans" transform="translate(44.5 584.35) scale(1.0 1) rotate(-90)" >0.4</text>
<line x1="154.65" y1="639.25" x2="154.65" y2="643.75" stroke="#666" stroke-width="0.8" />
<text x="154.65" y="654.95" font-size="6.8" text-anchor="middle" font-weight="normal" fill="#333" stroke="#333" stroke-width="0.15" font-family="Liberation Sans" >0.4</text>
<line x1="52.5" y1="559.4" x2="57" y2="559.4" stroke="#666" stroke-width="0.8" />
<text x="0" y="2.45" font-size="6.8" text-anchor="middle" font-weight="normal" fill="#333" stroke="#333" stroke-width="0.15" font-family="Liberation Sans" transform="translate(44.5 559.4) scale(1.0 1) rotate(-90)" >0.6</text>
<line x1="199.1" y1="639.25" x2="199.1" y2="643.75" stroke="#666" stroke-width="0.8" />
<text x="199.1" y="654.95" font-size="6.8" text-anchor="middle" font-weight="normal" fill="#333" stroke="#333" stroke-width="0.15" font-family="Liberation Sans" >0.6</text>
<line x1="52.5" y1="534.45" x2="57" y2="534.45" stroke="#666" stroke-width="0.8" />
<text x="0" y="2.45" font-size="6.8" text-anchor="middle" font-weight="normal" fill="#333" stroke="#333" stroke-width="0.15" font-family="Liberation Sans" transform="translate(44.5 534.45) scale(1.0 1) rotate(-90)" >0.8</text>
<line x1="243.55" y1="639.25" x2="243.55" y2="643.75" stroke="#666" stroke-width="0.8" />
<text x="243.55" y="654.95" font-size="6.8" text-anchor="middle" font-weight="normal" fill="#333" stroke="#333" stroke-width="0.15" font-family="Liberation Sans" >0.8</text>
<line x1="52.5" y1="509.5" x2="57" y2="509.5" stroke="#666" stroke-width="0.8" />
<text x="0" y="2.45" font-size="6.8" text-anchor="middle" font-weight="normal" fill="#333" stroke="#333" stroke-width="0.15" font-family="Liberation Sans" transform="translate(44.5 509.5) scale(1.0 1) rotate(-90)" >1.0</text>
<line x1="288" y1="639.25" x2="288" y2="643.75" stroke="#666" stroke-width="0.8" />
<text x="288" y="654.95" font-size="6.8" text-anchor="middle" font-weight="normal" fill="#333" stroke="#333" stroke-width="0.15" font-family="Liberation Sans" >1.0</text>
<line x1="69.4" y1="505" x2="69.4" y2="508.4" stroke="#444" stroke-width="0.95" />
<line x1="70.1" y1="505" x2="70.1" y2="508.4" stroke="#444" stroke-width="0.95" />
<line x1="73.3" y1="505" x2="73.3" y2="508.4" stroke="#444" stroke-width="0.95" />
<line x1="79.9" y1="505" x2="79.9" y2="508.4" stroke="#444" stroke-width="0.95" />
<line x1="83.8" y1="505" x2="83.8" y2="508.4" stroke="#444" stroke-width="0.95" />
<line x1="89.7" y1="505" x2="89.7" y2="508.4" stroke="#444" stroke-width="0.95" />
<line x1="92.3" y1="505" x2="92.3" y2="508.4" stroke="#444" stroke-width="0.95" />
<line x1="93.6" y1="505" x2="93.6" y2="508.4" stroke="#444" stroke-width="0.95" />
<line x1="119.5" y1="505" x2="119.5" y2="508.4" stroke="#444" stroke-width="0.95" />
<line x1="120.5" y1="505" x2="120.5" y2="508.4" stroke="#444" stroke-width="0.95" />
<line x1="121.5" y1="505" x2="121.5" y2="508.4" stroke="#444" stroke-width="0.95" />
<line x1="122.4" y1="505" x2="122.4" y2="508.4" stroke="#444" stroke-width="0.95" />
<line x1="124.3" y1="505" x2="124.3" y2="508.4" stroke="#444" stroke-width="0.95" />
<line x1="134.1" y1="505" x2="134.1" y2="508.4" stroke="#444" stroke-width="0.95" />
<line x1="136.1" y1="505" x2="136.1" y2="508.4" stroke="#444" stroke-width="0.95" />
<line x1="143.5" y1="505" x2="143.5" y2="508.4" stroke="#444" stroke-width="0.95" />
<line x1="149.4" y1="505" x2="149.4" y2="508.4" stroke="#444" stroke-width="0.95" />
<line x1="150.5" y1="505" x2="150.5" y2="508.4" stroke="#444" stroke-width="0.95" />
<line x1="151.6" y1="505" x2="151.6" y2="508.4" stroke="#444" stroke-width="0.95" />
<line x1="152.7" y1="505" x2="152.7" y2="508.4" stroke="#444" stroke-width="0.95" />
<line x1="162.5" y1="505" x2="162.5" y2="508.4" stroke="#444" stroke-width="0.95" />
<line x1="163.5" y1="505" x2="163.5" y2="508.4" stroke="#444" stroke-width="0.95" />
<line x1="164.5" y1="505" x2="164.5" y2="508.4" stroke="#444" stroke-width="0.95" />
<line x1="168.4" y1="505" x2="168.4" y2="508.4" stroke="#444" stroke-width="0.95" />
<line x1="171.2" y1="505" x2="171.2" y2="508.4" stroke="#444" stroke-width="0.95" />
<line x1="174.6" y1="505" x2="174.6" y2="508.4" stroke="#444" stroke-width="0.95" />
<line x1="179.5" y1="505" x2="179.5" y2="508.4" stroke="#444" stroke-width="0.95" />
<line x1="181.4" y1="505" x2="181.4" y2="508.4" stroke="#444" stroke-width="0.95" />
<line x1="183.4" y1="505" x2="183.4" y2="508.4" stroke="#444" stroke-width="0.95" />
<line x1="189.3" y1="505" x2="189.3" y2="508.4" stroke="#444" stroke-width="0.95" />
<line x1="190.6" y1="505" x2="190.6" y2="508.4" stroke="#444" stroke-width="0.95" />
<line x1="200.4" y1="505" x2="200.4" y2="508.4" stroke="#444" stroke-width="0.95" />
<line x1="203.7" y1="505" x2="203.7" y2="508.4" stroke="#444" stroke-width="0.95" />
<line x1="205" y1="505" x2="205" y2="508.4" stroke="#444" stroke-width="0.95" />
<line x1="221.1" y1="505" x2="221.1" y2="508.4" stroke="#444" stroke-width="0.95" />
<line x1="226.8" y1="505" x2="226.8" y2="508.4" stroke="#444" stroke-width="0.95" />
<line x1="236" y1="505" x2="236" y2="508.4" stroke="#444" stroke-width="0.95" />
<line x1="237.4" y1="505" x2="237.4" y2="508.4" stroke="#444" stroke-width="0.95" />
<line x1="244.1" y1="505" x2="244.1" y2="508.4" stroke="#444" stroke-width="0.95" />
<line x1="245.8" y1="505" x2="245.8" y2="508.4" stroke="#444" stroke-width="0.95" />
<line x1="247.5" y1="505" x2="247.5" y2="508.4" stroke="#444" stroke-width="0.95" />
<line x1="256.3" y1="505" x2="256.3" y2="508.4" stroke="#444" stroke-width="0.95" />
<line x1="269.5" y1="505" x2="269.5" y2="508.4" stroke="#444" stroke-width="0.95" />
<line x1="270.3" y1="505" x2="270.3" y2="508.4" stroke="#444" stroke-width="0.95" />
<line x1="278.7" y1="505" x2="278.7" y2="508.4" stroke="#444" stroke-width="0.95" />
<line x1="283.5" y1="505" x2="283.5" y2="508.4" stroke="#444" stroke-width="0.95" />
<line x1="284.8" y1="505" x2="284.8" y2="508.4" stroke="#444" stroke-width="0.95" />
<line x1="288.2" y1="505" x2="288.2" y2="508.4" stroke="#444" stroke-width="0.95" />
<text x="176.5" y="491.25" font-size="8.32" text-anchor="middle" font-weight="bold" fill="#111" font-family="Liberation Sans" >Calibration Plot for TRG_01VS23</text>
<text x="0" y="2.43" font-size="6.75" text-anchor="middle" font-weight="normal" fill="#222" stroke="#222" stroke-width="0.15" font-family="Liberation Sans" transform="translate(28 571.88) scale(1.0 1) rotate(-90)" >Actual Probability</text>
<text x="176.57" y="670.47" font-size="6.87" text-anchor="middle" font-weight="normal" fill="#222" stroke="#222" stroke-width="0.15" font-family="Liberation Sans" >Predicted Pr{TRG_01VS23=1}</text>
<text x="57" y="679.8" font-size="5" text-anchor="start" font-weight="normal" fill="#333" stroke="#333" stroke-width="0.1" font-family="Liberation Sans" >B= 100 repetitions, boot</text>
<text x="296.75" y="679.8" font-size="5" text-anchor="end" font-weight="normal" fill="#333" stroke="#333" stroke-width="0.1" font-family="Liberation Sans" >Mean absolute error=0.071 n=75</text>
<line x1="193" y1="603.75" x2="203" y2="603.75" stroke="#b5b5b5" stroke-width="0.9" stroke-dasharray="2.2 1"/>
<line x1="193" y1="611.75" x2="203" y2="611.75" stroke="#8a8a8a" stroke-width="1" />
<line x1="193" y1="620" x2="203" y2="620" stroke="#9a9a9a" stroke-width="0.9" stroke-dasharray="1.4 1"/>
<text x="208" y="606.19" font-size="6.78" text-anchor="start" font-weight="normal" fill="#111" stroke="#111" stroke-width="0.15" font-family="Liberation Sans" >Apparent</text>
<text x="208" y="614.19" font-size="6.78" text-anchor="start" font-weight="normal" fill="#111" stroke="#111" stroke-width="0.15" font-family="Liberation Sans" >Bias-corrected</text>
<text x="208" y="622.44" font-size="6.78" text-anchor="start" font-weight="normal" fill="#111" stroke="#111" stroke-width="0.15" font-family="Liberation Sans" >Ideal</text>
<rect x="245.5" y="602" width="50.5" height="36" fill="#fefefe" stroke="#555" stroke-width="0.8"/>
<g clip-path="url(#le)">
<line x1="249.25" y1="608" x2="255.5" y2="608" stroke="#777" stroke-width="0.9" />
<text x="260" y="609.62" font-size="4.5" text-anchor="start" font-weight="normal" fill="#333" stroke="#333" stroke-width="0.05" font-family="Liberation Sans" >RECIST_Expansion</text>
<line x1="249.25" y1="614" x2="255.5" y2="614" stroke="#d99a9a" stroke-width="0.9" />
<text x="260" y="615.62" font-size="4.5" text-anchor="start" font-weight="normal" fill="#333" stroke="#333" stroke-width="0.05" font-family="Liberation Sans" >UC_RECIST</text>
<line x1="249.25" y1="619.5" x2="255.5" y2="619.5" stroke="#9cc99a" stroke-width="0.9" />
<text x="260" y="621.12" font-size="4.5" text-anchor="start" font-weight="normal" fill="#333" stroke="#333" stroke-width="0.05" font-family="Liberation Sans" >CT_model</text>
<line x1="249.25" y1="625.5" x2="255.5" y2="625.5" stroke="#9cc8dc" stroke-width="0.9" />
<text x="260" y="627.12" font-size="4.5" text-anchor="start" font-weight="normal" fill="#333" stroke="#333" stroke-width="0.05" font-family="Liberation Sans" >V_model</text>
<line x1="249.25" y1="631" x2="255.5" y2="631" stroke="#eeb070" stroke-width="0.9" />
<text x="260" y="632.62" font-size="4.5" text-anchor="start" font-weight="normal" fill="#333" stroke="#333" stroke-width="0.05" font-family="Liberation Sans" >U_model</text>
</g>
<line x1="43.3" y1="290" x2="43.3" y2="406.5" stroke="#f0f0f0" stroke-width="0.8" />
<line x1="79.5" y1="290" x2="79.5" y2="406.5" stroke="#f0f0f0" stroke-width="0.8" />
<line x1="115.7" y1="290" x2="115.7" y2="406.5" stroke="#f0f0f0" stroke-width="0.8" />
<line x1="151.9" y1="290" x2="151.9" y2="406.5" stroke="#f0f0f0" stroke-width="0.8" />
<line x1="188.1" y1="290" x2="188.1" y2="406.5" stroke="#f0f0f0" stroke-width="0.8" />
<line x1="224.3" y1="290" x2="224.3" y2="406.5" stroke="#f0f0f0" stroke-width="0.8" />
<line x1="260.5" y1="290" x2="260.5" y2="406.5" stroke="#f0f0f0" stroke-width="0.8" />
<line x1="296.7" y1="290" x2="296.7" y2="406.5" stroke="#f0f0f0" stroke-width="0.8" />
<line x1="37" y1="397.4" x2="306" y2="397.4" stroke="#f0f0f0" stroke-width="0.8" />
<line x1="37" y1="377.62" x2="306" y2="377.62" stroke="#f0f0f0" stroke-width="0.8" />
<line x1="37" y1="357.84" x2="306" y2="357.84" stroke="#f0f0f0" stroke-width="0.8" />
<line x1="37" y1="338.06" x2="306" y2="338.06" stroke="#f0f0f0" stroke-width="0.8" />
<line x1="37" y1="318.28" x2="306" y2="318.28" stroke="#f0f0f0" stroke-width="0.8" />
<line x1="37" y1="298.5" x2="306" y2="298.5" stroke="#f0f0f0" stroke-width="0.8" />
<g clip-path="url(#cc)">
<path d="M43.3 298.5 L43.9 300.29 L44.51 302.09 L45.11 303.9 L45.71 305.73 L46.32 307.57 L46.92 309.42 L47.52 311.28 L48.13 313.16 L48.73 315.05 L49.33 316.95 L49.94 318.87 L50.54 320.79 L51.14 322.74 L51.75 324.69 L52.35 326.66 L52.95 328.65 L53.56 330.64 L54.16 332.65 L54.76 334.68 L55.37 336.72 L55.97 338.77 L56.57 340.84 L57.18 342.93 L57.78 345.03 L58.38 347.14 L58.99 349.27 L59.59 351.42 L60.19 353.58 L60.8 355.76 L61.4 357.95 L62 360.16 L62.61 362.39 L63.21 364.63 L63.81 366.89 L64.42 369.17 L65.02 371.46 L65.62 373.78 L66.23 376.11 L66.83 378.45 L67.43 380.82 L68.04 383.2 L68.64 385.61 L69.24 388.03 L69.85 390.47 L70.45 392.92 L71.05 395.4 L71.66 397.9 L72.26 400.42 L72.86 402.96 L73.47 405.51 L74.07 408.09 L74.67 410.69 L75.28 413.31 L75.88 415.96 L76.48 418.62 L77.09 421.3 L77.69 424.01 L78.29 426.74 L78.9 429.49 L79.5 432.27" fill="none" stroke="#c8c8c8" stroke-width="0.9" stroke-linejoin="round" stroke-linecap="round" />
<line x1="43.3" y1="397.4" x2="222.8" y2="397.4" stroke="#8e8e8e" stroke-width="1.25" />
<path d="M43.15 298.41 L47.01 305.76 L49.63 312.77 L51.38 321.52 L53.13 324.15 L57.51 323.27 L60.14 325.03 L68.02 327.65 L75.03 329.4 L80.28 332.03 L82.91 327.65 L87.29 325.03 L96.04 328.53 L97.79 332.91 L106.55 336.41 L118.81 340.79 L122.31 350.42 L140 360.05 L157.15 372.31 L158.02 364.43 L195.67 364.43 L197.43 372.31 L215.81 372.31 L219.32 388.95 L222.82 388.95" fill="none" stroke="#df5353" stroke-width="1.3" stroke-linejoin="round" stroke-linecap="round" />
<path d="M43.15 298.41 L48.76 307.51 L55.76 311.89 L61.02 312.77 L64.52 320.65 L69.77 325.03 L75.03 333.78 L78.53 351.3 L85.53 349.54 L89.04 352.17 L94.29 351.3 L97.79 361.8 L110.05 360.05 L114.43 376.69 L122.31 374.06 L125.81 385.45 L131.07 375.81 L131.75 372.31 L170.28 383.7 L173.78 364.43 L190.42 364.43 L192.17 372.31 L207.93 372.31 L209.68 381.07 L215.81 381.07 L217.57 372.31 L222.82 372.31" fill="none" stroke="#c6ca52" stroke-width="1.3" stroke-linejoin="round" stroke-linecap="round" />
<path d="M43.15 298.41 L47.88 311.02 L50.51 314.52 L61.02 318.9 L64.52 324.15 L75.03 320.65 L80.28 334.66 L89.04 337.29 L101.3 342.54 L106.55 337.29 L111.8 332.91 L131.07 339.04 L139.82 365.31 L132.63 342.54 L138.76 366.18 L141.38 357.43 L147.51 358.3 L150.14 367.06 L166.78 374.06 L172.03 383.7 L179.04 389.82 L182.54 398.58 L188.67 406.46 L191.3 416.09 L197.43 416.09 L199.18 372.31 L214.06 372.31 L216.69 381.07 L222.82 381.07" fill="none" stroke="#52d084" stroke-width="1.3" stroke-linejoin="round" stroke-linecap="round" />
<path d="M43.15 298.41 L48.76 307.51 L55.76 312.77 L64.52 316.27 L68.02 324.15 L75.03 320.65 L82.03 319.42 L92.54 321.52 L110.05 325.9 L140 334.66 L140.51 334.66 L143.13 342.54 L150.14 346.92 L151.89 336.41 L156.27 337.29 L158.9 346.04 L172.91 352.17 L175.53 361.8 L177.29 340.79 L182.54 339.91 L185.17 347.79 L206.18 347.79 L208.81 356.2 L215.81 356.55 L219.32 370.56 L222.82 381.07" fill="none" stroke="#4c84e0" stroke-width="1.3" stroke-linejoin="round" stroke-linecap="round" />
<path d="M43.15 298.41 L48.76 309.26 L57.51 312.77 L59.26 324.15 L62.77 332.03 L68.9 337.29 L75.03 333.78 L80.28 331.16 L87.29 346.04 L92.54 354.8 L96.04 363.56 L110.05 367.93 L113.56 372.31 L125.81 376.69 L128.44 371.44 L140 374.06 L142.26 375.81 L144.89 385.45 L155.39 391.58 L157.15 364.43 L195.67 364.43 L197.43 372.31 L219.32 372.31 L221.94 381.07" fill="none" stroke="#bf55e0" stroke-width="1.3" stroke-linejoin="round" stroke-linecap="round" />
</g>
<line x1="33.1" y1="298.5" x2="33.1" y2="397.4" stroke="#777" stroke-width="0.9" />
<line x1="29.5" y1="397.4" x2="33.1" y2="397.4" stroke="#777" stroke-width="0.9" />
<text x="0" y="2.16" font-size="6" text-anchor="middle" font-weight="normal" fill="#333" stroke="#333" stroke-width="0.15" font-family="Liberation Sans" transform="translate(21 397.4) scale(1.12 1) rotate(-90)" >0.0</text>
<line x1="29.5" y1="377.62" x2="33.1" y2="377.62" stroke="#777" stroke-width="0.9" />
<text x="0" y="2.16" font-size="6" text-anchor="middle" font-weight="normal" fill="#333" stroke="#333" stroke-width="0.15" font-family="Liberation Sans" transform="translate(21 377.62) scale(1.12 1) rotate(-90)" >0.2</text>
<line x1="29.5" y1="357.84" x2="33.1" y2="357.84" stroke="#777" stroke-width="0.9" />
<text x="0" y="2.16" font-size="6" text-anchor="middle" font-weight="normal" fill="#333" stroke="#333" stroke-width="0.15" font-family="Liberation Sans" transform="translate(21 357.84) scale(1.12 1) rotate(-90)" >0.4</text>
<line x1="29.5" y1="338.06" x2="33.1" y2="338.06" stroke="#777" stroke-width="0.9" />
<text x="0" y="2.16" font-size="6" text-anchor="middle" font-weight="normal" fill="#333" stroke="#333" stroke-width="0.15" font-family="Liberation Sans" transform="translate(21 338.06) scale(1.12 1) rotate(-90)" >0.6</text>
<line x1="29.5" y1="318.28" x2="33.1" y2="318.28" stroke="#777" stroke-width="0.9" />
<text x="0" y="2.16" font-size="6" text-anchor="middle" font-weight="normal" fill="#333" stroke="#333" stroke-width="0.15" font-family="Liberation Sans" transform="translate(21 318.28) scale(1.12 1) rotate(-90)" >0.8</text>
<line x1="29.5" y1="298.5" x2="33.1" y2="298.5" stroke="#777" stroke-width="0.9" />
<text x="0" y="2.16" font-size="6" text-anchor="middle" font-weight="normal" fill="#333" stroke="#333" stroke-width="0.15" font-family="Liberation Sans" transform="translate(21 298.5) scale(1.12 1) rotate(-90)" >1.0</text>
<line x1="43.3" y1="406.5" x2="296.7" y2="406.5" stroke="#777" stroke-width="0.9" />
<line x1="43.3" y1="406.5" x2="43.3" y2="409.8" stroke="#777" stroke-width="0.9" />
<text x="0" y="0" font-size="6.2" text-anchor="middle" font-weight="normal" fill="#333" stroke="#333" stroke-width="0.15" font-family="Liberation Sans" transform="translate(43.3 420.73) scale(1.12 1)" >0.0</text>
<line x1="79.5" y1="406.5" x2="79.5" y2="409.8" stroke="#777" stroke-width="0.9" />
<text x="0" y="0" font-size="6.2" text-anchor="middle" font-weight="normal" fill="#333" stroke="#333" stroke-width="0.15" font-family="Liberation Sans" transform="translate(79.5 420.73) scale(1.12 1)" >0.2</text>
<line x1="115.7" y1="406.5" x2="115.7" y2="409.8" stroke="#777" stroke-width="0.9" />
<text x="0" y="0" font-size="6.2" text-anchor="middle" font-weight="normal" fill="#333" stroke="#333" stroke-width="0.15" font-family="Liberation Sans" transform="translate(115.7 420.73) scale(1.12 1)" >0.4</text>
<line x1="151.9" y1="406.5" x2="151.9" y2="409.8" stroke="#777" stroke-width="0.9" />
<text x="0" y="0" font-size="6.2" text-anchor="middle" font-weight="normal" fill="#333" stroke="#333" stroke-width="0.15" font-family="Liberation Sans" transform="translate(151.9 420.73) scale(1.12 1)" >0.6</text>
<line x1="188.1" y1="406.5" x2="188.1" y2="409.8" stroke="#777" stroke-width="0.9" />
<text x="0" y="0" font-size="6.2" text-anchor="middle" font-weight="normal" fill="#333" stroke="#333" stroke-width="0.15" font-family="Liberation Sans" transform="translate(188.1 420.73) scale(1.12 1)" >0.8</text>
<line x1="224.3" y1="406.5" x2="224.3" y2="409.8" stroke="#777" stroke-width="0.9" />
<text x="0" y="0" font-size="6.2" text-anchor="middle" font-weight="normal" fill="#333" stroke="#333" stroke-width="0.15" font-family="Liberation Sans" transform="translate(224.3 420.73) scale(1.12 1)" >1.0</text>
<line x1="260.5" y1="406.5" x2="260.5" y2="409.8" stroke="#777" stroke-width="0.9" />
<text x="0" y="0" font-size="6.2" text-anchor="middle" font-weight="normal" fill="#333" stroke="#333" stroke-width="0.15" font-family="Liberation Sans" transform="translate(260.5 420.73) scale(1.12 1)" >1.2</text>
<line x1="296.7" y1="406.5" x2="296.7" y2="409.8" stroke="#777" stroke-width="0.9" />
<text x="0" y="0" font-size="6.2" text-anchor="middle" font-weight="normal" fill="#333" stroke="#333" stroke-width="0.15" font-family="Liberation Sans" transform="translate(296.7 420.73) scale(1.12 1)" >1.4</text>
<text x="0" y="0" font-size="5.87" text-anchor="middle" font-weight="normal" fill="#222" stroke="#222" stroke-width="0.15" font-family="Liberation Sans" transform="translate(171.09 429.91) scale(1.12 1)" >High Risk Threshold</text>
<line x1="45.09" y1="437.9" x2="222.49" y2="437.9" stroke="#777" stroke-width="0.9" />
<line x1="45.09" y1="437.9" x2="45.09" y2="441.2" stroke="#777" stroke-width="0.9" />
<text x="0" y="0" font-size="6.2" text-anchor="middle" font-weight="normal" fill="#333" stroke="#333" stroke-width="0.15" font-family="Liberation Sans" transform="translate(45.09 451.03) scale(1.12 1)" >1:100</text>
<line x1="95.01" y1="437.9" x2="95.01" y2="441.2" stroke="#777" stroke-width="0.9" />
<text x="0" y="0" font-size="6.2" text-anchor="middle" font-weight="normal" fill="#333" stroke="#333" stroke-width="0.15" font-family="Liberation Sans" transform="translate(95.01 451.03) scale(1.12 1)" >2:5</text>
<line x1="143.86" y1="437.9" x2="143.86" y2="441.2" stroke="#777" stroke-width="0.9" />
<text x="0" y="0" font-size="6.2" text-anchor="middle" font-weight="normal" fill="#333" stroke="#333" stroke-width="0.15" font-family="Liberation Sans" transform="translate(143.86 451.03) scale(1.12 1)" >5:4</text>
<line x1="194.13" y1="437.9" x2="194.13" y2="441.2" stroke="#777" stroke-width="0.9" />
<text x="0" y="0" font-size="6.2" text-anchor="middle" font-weight="normal" fill="#333" stroke="#333" stroke-width="0.15" font-family="Liberation Sans" transform="translate(194.13 451.03) scale(1.12 1)" >5:1</text>
<line x1="222.49" y1="437.9" x2="222.49" y2="441.2" stroke="#777" stroke-width="0.9" />
<text x="0" y="0" font-size="6.2" text-anchor="middle" font-weight="normal" fill="#333" stroke="#333" stroke-width="0.15" font-family="Liberation Sans" transform="translate(222.49 451.03) scale(1.12 1)" >100:1</text>
<text x="0" y="0" font-size="6.05" text-anchor="middle" font-weight="normal" fill="#222" stroke="#222" stroke-width="0.15" font-family="Liberation Sans" transform="translate(171.09 460.78) scale(1.12 1)" >Cost:Benefit Ratio</text>
<text x="0" y="0" font-size="9.1" text-anchor="middle" font-weight="normal" fill="#111" stroke="#111" stroke-width="0.15" font-family="Liberation Sans" transform="translate(165.2 287.88) scale(1.12 1)" >DCA for TRG_012VS3</text>
<text x="0" y="2.21" font-size="6.14" text-anchor="middle" font-weight="normal" fill="#222" stroke="#222" stroke-width="0.15" font-family="Liberation Sans" transform="translate(4.9 350.25) scale(1.12 1) rotate(-90)" >Standardized Net Benefit</text>
<rect x="224.9" y="344.2" width="86.2" height="62" fill="#fefefe" stroke="#888" stroke-width="0.9"/>
<line x1="230.7" y1="352.4" x2="245" y2="352.4" stroke="#df5353" stroke-width="1.6" />
<text x="0" y="0" font-size="5.85" text-anchor="start" font-weight="normal" fill="#222" stroke="#222" stroke-width="0.15" font-family="Liberation Sans" transform="translate(249.4 354.51) scale(1.12 1)" >RECIST_Expansion</text>
<line x1="230.7" y1="360.2" x2="245" y2="360.2" stroke="#c6ca52" stroke-width="1.6" />
<text x="0" y="0" font-size="5.85" text-anchor="start" font-weight="normal" fill="#222" stroke="#222" stroke-width="0.15" font-family="Liberation Sans" transform="translate(249.4 362.31) scale(1.12 1)" >UC_RECIST</text>
<line x1="230.7" y1="368.3" x2="245" y2="368.3" stroke="#52d084" stroke-width="1.6" />
<text x="0" y="0" font-size="5.85" text-anchor="start" font-weight="normal" fill="#222" stroke="#222" stroke-width="0.15" font-family="Liberation Sans" transform="translate(249.4 370.41) scale(1.12 1)" >CT_model</text>
<line x1="230.7" y1="376.1" x2="245" y2="376.1" stroke="#4c84e0" stroke-width="1.6" />
<text x="0" y="0" font-size="5.85" text-anchor="start" font-weight="normal" fill="#222" stroke="#222" stroke-width="0.15" font-family="Liberation Sans" transform="translate(249.4 378.21) scale(1.12 1)" >V_model</text>
<line x1="230.7" y1="384.2" x2="245" y2="384.2" stroke="#bf55e0" stroke-width="1.6" />
<text x="0" y="0" font-size="5.85" text-anchor="start" font-weight="normal" fill="#222" stroke="#222" stroke-width="0.15" font-family="Liberation Sans" transform="translate(249.4 386.31) scale(1.12 1)" >U_model</text>
<line x1="230.7" y1="391.8" x2="245" y2="391.8" stroke="#d8d8d8" stroke-width="1.6" />
<text x="0" y="0" font-size="5.85" text-anchor="start" font-weight="normal" fill="#222" stroke="#222" stroke-width="0.15" font-family="Liberation Sans" transform="translate(249.4 393.91) scale(1.12 1)" >All</text>
<line x1="230.7" y1="399.5" x2="245" y2="399.5" stroke="#a8a8a8" stroke-width="1.6" />
<text x="0" y="0" font-size="5.85" text-anchor="start" font-weight="normal" fill="#222" stroke="#222" stroke-width="0.15" font-family="Liberation Sans" transform="translate(249.4 401.61) scale(1.12 1)" >None</text>
<line x1="359.1" y1="518" x2="359.1" y2="628.5" stroke="#f0f0f0" stroke-width="0.8" />
<line x1="391.3" y1="518" x2="391.3" y2="628.5" stroke="#f0f0f0" stroke-width="0.8" />
<line x1="423.5" y1="518" x2="423.5" y2="628.5" stroke="#f0f0f0" stroke-width="0.8" />
<line x1="455.7" y1="518" x2="455.7" y2="628.5" stroke="#f0f0f0" stroke-width="0.8" />
<line x1="487.9" y1="518" x2="487.9" y2="628.5" stroke="#f0f0f0" stroke-width="0.8" />
<line x1="520.1" y1="518" x2="520.1" y2="628.5" stroke="#f0f0f0" stroke-width="0.8" />
<line x1="552.3" y1="518" x2="552.3" y2="628.5" stroke="#f0f0f0" stroke-width="0.8" />
<line x1="584.5" y1="518" x2="584.5" y2="628.5" stroke="#f0f0f0" stroke-width="0.8" />
<line x1="353" y1="619.9" x2="606" y2="619.9" stroke="#f0f0f0" stroke-width="0.8" />
<line x1="353" y1="601" x2="606" y2="601" stroke="#f0f0f0" stroke-width="0.8" />
<line x1="353" y1="582.1" x2="606" y2="582.1" stroke="#f0f0f0" stroke-width="0.8" />
<line x1="353" y1="563.2" x2="606" y2="563.2" stroke="#f0f0f0" stroke-width="0.8" />
<line x1="353" y1="544.3" x2="606" y2="544.3" stroke="#f0f0f0" stroke-width="0.8" />
<line x1="353" y1="525.4" x2="606" y2="525.4" stroke="#f0f0f0" stroke-width="0.8" />
<g clip-path="url(#cf)">
<path d="M359.1 525.4 L360.6 526.22 L362.11 527.06 L363.61 527.91 L365.11 528.78 L366.61 529.67 L368.12 530.57 L369.62 531.5 L371.12 532.44 L372.62 533.4 L374.13 534.38 L375.63 535.38 L377.13 536.4 L378.63 537.45 L380.14 538.51 L381.64 539.6 L383.14 540.71 L384.65 541.85 L386.15 543.01 L387.65 544.2 L389.15 545.42 L390.66 546.67 L392.16 547.94 L393.66 549.24 L395.16 550.58 L396.67 551.95 L398.17 553.35 L399.67 554.79 L401.17 556.26 L402.68 557.77 L404.18 559.32 L405.68 560.91 L407.19 562.55 L408.69 564.23 L410.19 565.95 L411.69 567.72 L413.2 569.54 L414.7 571.41 L416.2 573.34 L417.7 575.32 L419.21 577.37 L420.71 579.47 L422.21 581.64 L423.71 583.88 L425.22 586.19 L426.72 588.57 L428.22 591.03 L429.73 593.57 L431.23 596.2 L432.73 598.91 L434.23 601.73 L435.74 604.64 L437.24 607.66 L438.74 610.79 L440.24 614.04 L441.75 617.41 L443.25 620.92 L444.75 624.56 L446.25 628.35 L447.76 632.3 L449.26 636.42" fill="none" stroke="#c8c8c8" stroke-width="0.9" stroke-linejoin="round" stroke-linecap="round" />
<line x1="359.1" y1="619.9" x2="518.6" y2="619.9" stroke="#8e8e8e" stroke-width="1.25" />
<path d="M359.23 525.91 L378.52 535.13 L391.95 541.85 L400.34 545.2 L407.05 551.91 L417.11 559.46 L427.18 568.69 L429.7 573.72 L435.57 580.44 L437.25 590.5 L441.44 595.54 L444.8 608.96 L448.15 612.32 L451.03 606.91 L455.44 609.85 L459.12 606.91 L460.59 598.09 L471.62 603.24 L476.03 593.68 L478.97 595.15 L483.38 582.65 L487.06 584.12 L490.74 590 L495.88 590 L498.09 592.21 L506.91 592.21 L508.38 604.71 L508.38 612.06 L517.94 612.06 L518.68 617.21" fill="none" stroke="#df5353" stroke-width="1.25" stroke-linejoin="round" stroke-linecap="round" />
<path d="M359.23 525.91 L380.2 535.13 L391.95 540.17 L400.34 544.36 L408.72 549.4 L415.44 548.56 L420.47 550.23 L427.18 552.75 L432.21 558.62 L435.57 565.34 L440.6 577.08 L445.64 583.79 L453.24 592.21 L460.59 598.82 L469.41 609.12 L477.5 634.12 L480.44 634.12 L485.59 606.18 L490.74 598.82 L495.88 600.29 L497.35 587.79 L504.71 592.94 L507.65 604.71 L517.94 612.79" fill="none" stroke="#c6ca52" stroke-width="1.25" stroke-linejoin="round" stroke-linecap="round" />
<path d="M359.23 525.91 L378.52 535.13 L391.95 539.33 L398.66 536.81 L407.05 540.17 L413.76 546.88 L418.79 554.43 L427.18 560.3 L433.89 565.34 L442.28 572.05 L447.32 577.08 L456.18 585.59 L462.79 583.38 L469.41 594.41 L475.29 598.09 L479.71 604.71 L483.38 612.06 L488.53 619.41 L490.74 634.12 L492.94 634.12 L496.62 613.53 L498.82 590 L512.06 590 L517.94 606.91" fill="none" stroke="#52d084" stroke-width="1.25" stroke-linejoin="round" stroke-linecap="round" />
<path d="M359.23 525.91 L378.52 538.49 L385.23 541.85 L395.3 548.56 L400.34 546.04 L405.37 551.07 L407.05 555.27 L413.76 556.95 L420.47 561.98 L423.83 568.69 L428.86 568.69 L437.25 572.05 L445.64 577.08 L454.71 582.65 L457.65 591.47 L459.12 598.82 L465 603.24 L474.56 615 L478.24 609.12 L482.65 607.65 L484.12 613.53 L488.53 619.41 L491.47 613.53 L494.41 604.71 L497.35 608.38 L504.71 608.38 L509.12 612.06 L513.53 615 L517.94 615" fill="none" stroke="#4c84e0" stroke-width="1.25" stroke-linejoin="round" stroke-linecap="round" />
<path d="M359.23 525.91 L378.52 535.13 L386.91 540.17 L398.66 546.04 L405.37 548.56 L410.4 553.59 L417.11 558.62 L422.15 565.34 L428.86 568.69 L440.6 573.72 L459.12 595.88 L470.88 611.32 L473.09 603.24 L478.97 596.62 L482.65 610.59 L487.06 616.47 L488.53 607.65 L493.68 610.59 L497.35 617.94 L504.71 634.12 L507.65 634.12 L508.38 609.85 L517.94 612.79" fill="none" stroke="#bf55e0" stroke-width="1.25" stroke-linejoin="round" stroke-linecap="round" />
</g>
<line x1="349.7" y1="525.4" x2="349.7" y2="619.9" stroke="#777" stroke-width="0.9" />
<line x1="346.1" y1="619.9" x2="349.7" y2="619.9" stroke="#777" stroke-width="0.9" />
<text x="0" y="2.2" font-size="6.1" text-anchor="middle" font-weight="normal" fill="#333" stroke="#333" stroke-width="0.15" font-family="Liberation Sans" transform="translate(339.4 619.9) scale(1.0 1) rotate(-90)" >0.0</text>
<line x1="346.1" y1="601" x2="349.7" y2="601" stroke="#777" stroke-width="0.9" />
<text x="0" y="2.2" font-size="6.1" text-anchor="middle" font-weight="normal" fill="#333" stroke="#333" stroke-width="0.15" font-family="Liberation Sans" transform="translate(339.4 601) scale(1.0 1) rotate(-90)" >0.2</text>
<line x1="346.1" y1="582.1" x2="349.7" y2="582.1" stroke="#777" stroke-width="0.9" />
<text x="0" y="2.2" font-size="6.1" text-anchor="middle" font-weight="normal" fill="#333" stroke="#333" stroke-width="0.15" font-family="Liberation Sans" transform="translate(339.4 582.1) scale(1.0 1) rotate(-90)" >0.4</text>
<line x1="346.1" y1="563.2" x2="349.7" y2="563.2" stroke="#777" stroke-width="0.9" />
<text x="0" y="2.2" font-size="6.1" text-anchor="middle" font-weight="normal" fill="#333" stroke="#333" stroke-width="0.15" font-family="Liberation Sans" transform="translate(339.4 563.2) scale(1.0 1) rotate(-90)" >0.6</text>
<line x1="346.1" y1="544.3" x2="349.7" y2="544.3" stroke="#777" stroke-width="0.9" />
<text x="0" y="2.2" font-size="6.1" text-anchor="middle" font-weight="normal" fill="#333" stroke="#333" stroke-width="0.15" font-family="Liberation Sans" transform="translate(339.4 544.3) scale(1.0 1) rotate(-90)" >0.8</text>
<line x1="346.1" y1="525.4" x2="349.7" y2="525.4" stroke="#777" stroke-width="0.9" />
<text x="0" y="2.2" font-size="6.1" text-anchor="middle" font-weight="normal" fill="#333" stroke="#333" stroke-width="0.15" font-family="Liberation Sans" transform="translate(339.4 525.4) scale(1.0 1) rotate(-90)" >1.0</text>
<line x1="359.1" y1="628.5" x2="584.5" y2="628.5" stroke="#777" stroke-width="0.9" />
<line x1="359.1" y1="628.5" x2="359.1" y2="631.8" stroke="#777" stroke-width="0.9" />
<text x="359.1" y="641.92" font-size="5.9" text-anchor="middle" font-weight="normal" fill="#333" stroke="#333" stroke-width="0.15" font-family="Liberation Sans" >0.0</text>
<line x1="391.3" y1="628.5" x2="391.3" y2="631.8" stroke="#777" stroke-width="0.9" />
<text x="391.3" y="641.92" font-size="5.9" text-anchor="middle" font-weight="normal" fill="#333" stroke="#333" stroke-width="0.15" font-family="Liberation Sans" >0.2</text>
<line x1="423.5" y1="628.5" x2="423.5" y2="631.8" stroke="#777" stroke-width="0.9" />
<text x="423.5" y="641.92" font-size="5.9" text-anchor="middle" font-weight="normal" fill="#333" stroke="#333" stroke-width="0.15" font-family="Liberation Sans" >0.4</text>
<line x1="455.7" y1="628.5" x2="455.7" y2="631.8" stroke="#777" stroke-width="0.9" />
<text x="455.7" y="641.92" font-size="5.9" text-anchor="middle" font-weight="normal" fill="#333" stroke="#333" stroke-width="0.15" font-family="Liberation Sans" >0.6</text>
<line x1="487.9" y1="628.5" x2="487.9" y2="631.8" stroke="#777" stroke-width="0.9" />
<text x="487.9" y="641.92" font-size="5.9" text-anchor="middle" font-weight="normal" fill="#333" stroke="#333" stroke-width="0.15" font-family="Liberation Sans" >0.8</text>
<line x1="520.1" y1="628.5" x2="520.1" y2="631.8" stroke="#777" stroke-width="0.9" />
<text x="520.1" y="641.92" font-size="5.9" text-anchor="middle" font-weight="normal" fill="#333" stroke="#333" stroke-width="0.15" font-family="Liberation Sans" >1.0</text>
<line x1="552.3" y1="628.5" x2="552.3" y2="631.8" stroke="#777" stroke-width="0.9" />
<text x="552.3" y="641.92" font-size="5.9" text-anchor="middle" font-weight="normal" fill="#333" stroke="#333" stroke-width="0.15" font-family="Liberation Sans" >1.2</text>
<line x1="584.5" y1="628.5" x2="584.5" y2="631.8" stroke="#777" stroke-width="0.9" />
<text x="584.5" y="641.92" font-size="5.9" text-anchor="middle" font-weight="normal" fill="#333" stroke="#333" stroke-width="0.15" font-family="Liberation Sans" >1.4</text>
<text x="472.77" y="650.58" font-size="5.78" text-anchor="middle" font-weight="normal" fill="#222" stroke="#222" stroke-width="0.15" font-family="Liberation Sans" >High Risk Threshold</text>
<line x1="360.69" y1="658.5" x2="518.49" y2="658.5" stroke="#777" stroke-width="0.9" />
<line x1="360.69" y1="658.5" x2="360.69" y2="661.8" stroke="#777" stroke-width="0.9" />
<text x="360.69" y="671.12" font-size="5.9" text-anchor="middle" font-weight="normal" fill="#333" stroke="#333" stroke-width="0.15" font-family="Liberation Sans" >1:100</text>
<line x1="405.1" y1="658.5" x2="405.1" y2="661.8" stroke="#777" stroke-width="0.9" />
<text x="405.1" y="671.12" font-size="5.9" text-anchor="middle" font-weight="normal" fill="#333" stroke="#333" stroke-width="0.15" font-family="Liberation Sans" >2:5</text>
<line x1="448.54" y1="658.5" x2="448.54" y2="661.8" stroke="#777" stroke-width="0.9" />
<text x="448.54" y="671.12" font-size="5.9" text-anchor="middle" font-weight="normal" fill="#333" stroke="#333" stroke-width="0.15" font-family="Liberation Sans" >5:4</text>
<line x1="493.27" y1="658.5" x2="493.27" y2="661.8" stroke="#777" stroke-width="0.9" />
<text x="493.27" y="671.12" font-size="5.9" text-anchor="middle" font-weight="normal" fill="#333" stroke="#333" stroke-width="0.15" font-family="Liberation Sans" >5:1</text>
<line x1="518.49" y1="658.5" x2="518.49" y2="661.8" stroke="#777" stroke-width="0.9" />
<text x="518.49" y="671.12" font-size="5.9" text-anchor="middle" font-weight="normal" fill="#333" stroke="#333" stroke-width="0.15" font-family="Liberation Sans" >100:1</text>
<text x="472.77" y="679.06" font-size="6" text-anchor="middle" font-weight="normal" fill="#222" stroke="#222" stroke-width="0.15" font-family="Liberation Sans" >Cost:Benefit Ratio</text>
<text x="472.1" y="518.96" font-size="9.05" text-anchor="middle" font-weight="normal" fill="#111" stroke="#111" stroke-width="0.15" font-family="Liberation Sans" >DCA for TRG_01VS23</text>
<text x="0" y="2.11" font-size="5.87" text-anchor="middle" font-weight="normal" fill="#222" stroke="#222" stroke-width="0.15" font-family="Liberation Sans" transform="translate(324.9 574.85) scale(1.0 1) rotate(-90)" >Standardized Net Benefit</text>
<rect x="520.3" y="569.6" width="76.4" height="58.7" fill="#fefefe" stroke="#888" stroke-width="0.9"/>
<line x1="525.8" y1="576.7" x2="536.7" y2="576.7" stroke="#df5353" stroke-width="1.6" />
<text x="542" y="578.79" font-size="5.81" text-anchor="start" font-weight="normal" fill="#222" stroke="#222" stroke-width="0.15" font-family="Liberation Sans" >RECIST_Expansion</text>
<line x1="525.8" y1="584.2" x2="536.7" y2="584.2" stroke="#c6ca52" stroke-width="1.6" />
<text x="542" y="586.29" font-size="5.81" text-anchor="start" font-weight="normal" fill="#222" stroke="#222" stroke-width="0.15" font-family="Liberation Sans" >UC_RECIST</text>
<line x1="525.8" y1="591.7" x2="536.7" y2="591.7" stroke="#52d084" stroke-width="1.6" />
<text x="542" y="593.79" font-size="5.81" text-anchor="start" font-weight="normal" fill="#222" stroke="#222" stroke-width="0.15" font-family="Liberation Sans" >CT_model</text>
<line x1="525.8" y1="599.2" x2="536.7" y2="599.2" stroke="#4c84e0" stroke-width="1.6" />
<text x="542" y="601.29" font-size="5.81" text-anchor="start" font-weight="normal" fill="#222" stroke="#222" stroke-width="0.15" font-family="Liberation Sans" >V_model</text>
<line x1="525.8" y1="606.7" x2="536.7" y2="606.7" stroke="#bf55e0" stroke-width="1.6" />
<text x="542" y="608.79" font-size="5.81" text-anchor="start" font-weight="normal" fill="#222" stroke="#222" stroke-width="0.15" font-family="Liberation Sans" >U_model</text>
<line x1="525.8" y1="613.7" x2="536.7" y2="613.7" stroke="#d8d8d8" stroke-width="1.6" />
<text x="542" y="615.79" font-size="5.81" text-anchor="start" font-weight="normal" fill="#222" stroke="#222" stroke-width="0.15" font-family="Liberation Sans" >All</text>
<line x1="525.8" y1="621.3" x2="536.7" y2="621.3" stroke="#a8a8a8" stroke-width="1.6" />
<text x="542" y="623.39" font-size="5.81" text-anchor="start" font-weight="normal" fill="#222" stroke="#222" stroke-width="0.15" font-family="Liberation Sans" >None</text>
<line x1="319.5" y1="684.5" x2="612" y2="684.5" stroke="#e2e2e2" stroke-width="1" />
</svg></body></html>
